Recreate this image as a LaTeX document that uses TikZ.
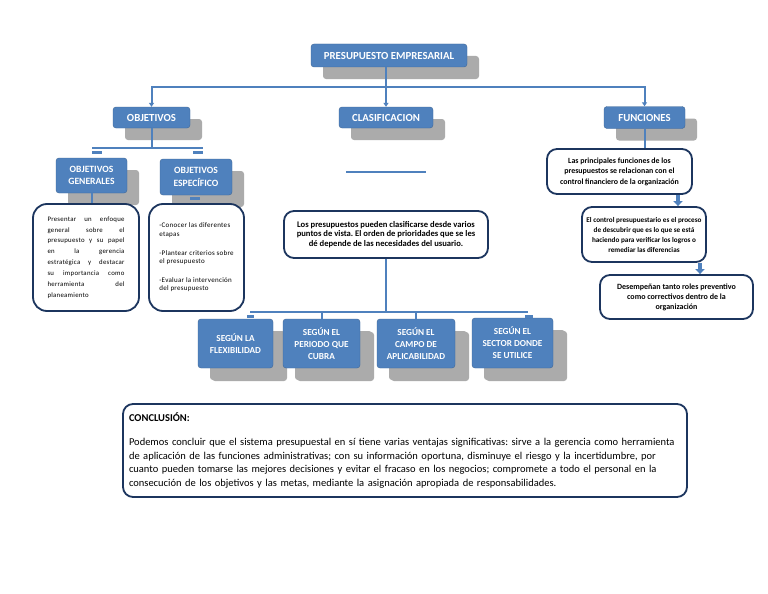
\documentclass[tikz,border=0pt]{standalone}
\usepackage{fontspec}
\setmainfont{Carlito}
\newfontfamily\spacedfont{Carlito}[LetterSpace=4]
\usetikzlibrary{shadows,arrows.meta}
\frenchspacing

\definecolor{boxblue}{HTML}{4F81BD}
\definecolor{linkblue}{HTML}{4F81BD}
\definecolor{shade}{HTML}{ABABAB}
\definecolor{navy}{HTML}{1C355E}

\tikzset{
  bluebox/.style={fill=boxblue, draw=boxblue!80!black, line width=0.4pt,
    rounded corners=3pt, text=white, align=center, inner sep=0pt,
    font=\bfseries\fontsize{10.8}{12.5}\selectfont,
    general shadow={fill=shade, shadow xshift=12pt, shadow yshift=-12pt}},
  midbox/.style={bluebox, font=\bfseries\fontsize{9.6}{12.5}\selectfont},
  rowbox/.style={bluebox, font=\bfseries\fontsize{9.2}{12}\selectfont,
    general shadow={fill=shade, shadow xshift=14pt, shadow yshift=-13pt}},
  textbox/.style={draw=navy, fill=white, line width=1.8pt, rounded corners=10pt,
    align=center, inner sep=0pt},
  conn/.style={draw=linkblue, line width=2pt},
  tip/.style={-{Triangle[width=5pt,length=4pt]}},
  fat/.style={draw=linkblue, line width=4.5pt, -{Triangle[width=9pt,length=5pt]}},
  tab/.style={fill=linkblue},
}

\begin{document}
\begin{tikzpicture}[x=1pt, y=-1pt]
\useasboundingbox[fill=white] (0,0) rectangle (768,594);

% top
\node[bluebox, minimum width=156pt, minimum height=23pt] (pres) at (389,55.5) {PRESUPUESTO EMPRESARIAL};
\node[bluebox, minimum width=77pt, minimum height=21pt] (obj) at (151.5,117.5) {OBJETIVOS};
\node[bluebox, minimum width=94pt, minimum height=21pt] (clas) at (386,117.5) {CLASIFICACION};
\node[bluebox, minimum width=81pt, minimum height=22pt] (fun) at (644.5,117.5) {FUNCIONES};

\coordinate (hub) at (386,87);
\draw[conn] (hub |- pres.south) -- (hub);
\draw[conn, tip] (hub) -| (obj.north);
\draw[conn, tip] (hub) -- (clas.north);
\draw[conn, tip] (hub) -| (fun.north);

% objetivos branch
\node[midbox, minimum width=71pt, minimum height=35pt] (gen) at (91.5,175.5) {OBJETIVOS\\GENERALES};
\node[midbox, minimum width=72pt, minimum height=36pt] (esp) at (196,177) {OBJETIVOS\\ESPECÍFICO};

\coordinate (obL) at (92,148);
\coordinate (obR) at (203,148);
\draw[conn] (obj.south) -- (obj.south |- obL);
\draw[conn] (obL) -- (obR);
\fill[tab] (92,151) rectangle (102,154);
\fill[tab] (193,151) rectangle (203,154);

\node[textbox, rounded corners=14pt, minimum width=106pt, minimum height=107pt,
      font=\spacedfont\fontsize{6.8}{10.9}\selectfont, align=left] (tb1) at (86,257.5)
 {\makebox[77pt][s]{Presentar un enfoque}\\
  \makebox[77pt][s]{general sobre el}\\
  \makebox[77pt][s]{presupuesto y su papel}\\
  \makebox[77pt][s]{en la gerencia}\\
  \makebox[77pt][s]{estratégica y destacar}\\
  \makebox[77pt][s]{su importancia como}\\
  \makebox[77pt][s]{herramienta del}\\
  \makebox[77pt][l]{planeamiento}};
\node[textbox, rounded corners=14pt, minimum width=95pt, minimum height=107pt,
      font=\spacedfont\fontsize{7}{8.3}\selectfont, align=left] (tb2) at (196.5,257.5)
 {\makebox[72pt][l]{-Conocer las diferentes}\\
  etapas\\[10.7pt]
  -Plantear criterios sobre\\
  el presupuesto\\[10.7pt]
  -Evaluar la intervención\\
  del presupuesto};

\draw[conn] (gen.south) -- (gen.south |- tb1.north);
\fill[tab] (190,197) rectangle (200,200);

% clasificacion branch
\coordinate (cL) at (346,172);
\coordinate (cR) at (426,172);
\draw[conn, line width=2.5pt] (cL) -- (cR);

\node[textbox, minimum width=204pt, minimum height=47pt,
      font=\bfseries\fontsize{8.6}{9.7}\selectfont] (tbc) at (386,234.5)
 {Los presupuestos pueden clasificarse desde varios\\
  puntos de vista. El orden de prioridades que se les\\
  dé depende de las necesidades del usuario.};

\node[rowbox, minimum width=75pt, minimum height=49pt] (s1) at (235.5,343.5) {SEGÚN LA\\FLEXIBILIDAD};
\node[rowbox, minimum width=77pt, minimum height=49pt] (s2) at (321.5,343.5) {SEGÚN EL\\PERIODO QUE\\CUBRA};
\node[rowbox, minimum width=78pt, minimum height=49pt] (s3) at (416,343.5) {SEGÚN EL\\CAMPO DE\\APLICABILIDAD};
\node[rowbox, minimum width=81pt, minimum height=50pt] (s4) at (512.5,343) {SEGÚN EL\\SECTOR DONDE\\SE UTILICE};

\coordinate (sL) at (250,312);
\coordinate (sR) at (528,312);
\draw[conn] (tbc.south) -- (tbc.south |- sL);
\draw[conn, line width=2.5pt] (sL) -- (sR);
\draw[conn] (s2.north |- sL) -- (s2.north);
\draw[conn] (s3.north |- sL) -- (s3.north);
\fill[tab] (247,315) rectangle (254,318);
\fill[tab] (525,315) rectangle (533,318);

% funciones branch
\node[textbox, minimum width=145pt, minimum height=45pt,
      font=\bfseries\fontsize{7.9}{10.5}\selectfont] (fa) at (619.5,171.5)
 {Las principales funciones de los\\
  presupuestos se relacionan con el\\
  control financiero de la organización};
\node[textbox, minimum width=124pt, minimum height=55pt,
      font=\bfseries\fontsize{7.2}{10}\selectfont] (fb) at (644,234.5)
 {El control presupuestario es el proceso\\
  de descubrir que es lo que se está\\
  haciendo para verificar los logros o\\
  remediar las diferencias};
\node[textbox, minimum width=153pt, minimum height=44pt,
      font=\bfseries\fontsize{8}{10}\selectfont] (fc) at (676.5,297)
 {Desempeñan tanto roles preventivo\\
  como correctivos dentro de la\\
  organización};

\draw[conn] (fun.south) -- (fun.south |- fa.north);
\coordinate (abx) at (678,0);
\coordinate (bcx) at (700,0);
\draw[fat] (fa.south -| abx) -- (fb.north -| abx);
\draw[fat] (fb.south -| bcx) -- (fc.north -| bcx);

% conclusion
\node[textbox, minimum width=564pt, minimum height=93pt, text width=552pt,
      align=left, font=\fontsize{10.5}{13.5}\selectfont] (concl) at (405,450.5)
 {\textbf{CONCLUSIÓN:}\\[10.5pt]
  Podemos concluir que el sistema presupuestal en sí tiene varias ventajas significativas: sirve a la gerencia como herramienta\\
  de aplicación de las funciones administrativas; con su información oportuna, disminuye el riesgo y la incertidumbre, por\\
  cuanto pueden tomarse las mejores decisiones y evitar el fracaso en los negocios; compromete a todo el personal en la\\
  consecución de los objetivos y las metas, mediante la asignación apropiada de responsabilidades.};
\end{tikzpicture}
\end{document}
